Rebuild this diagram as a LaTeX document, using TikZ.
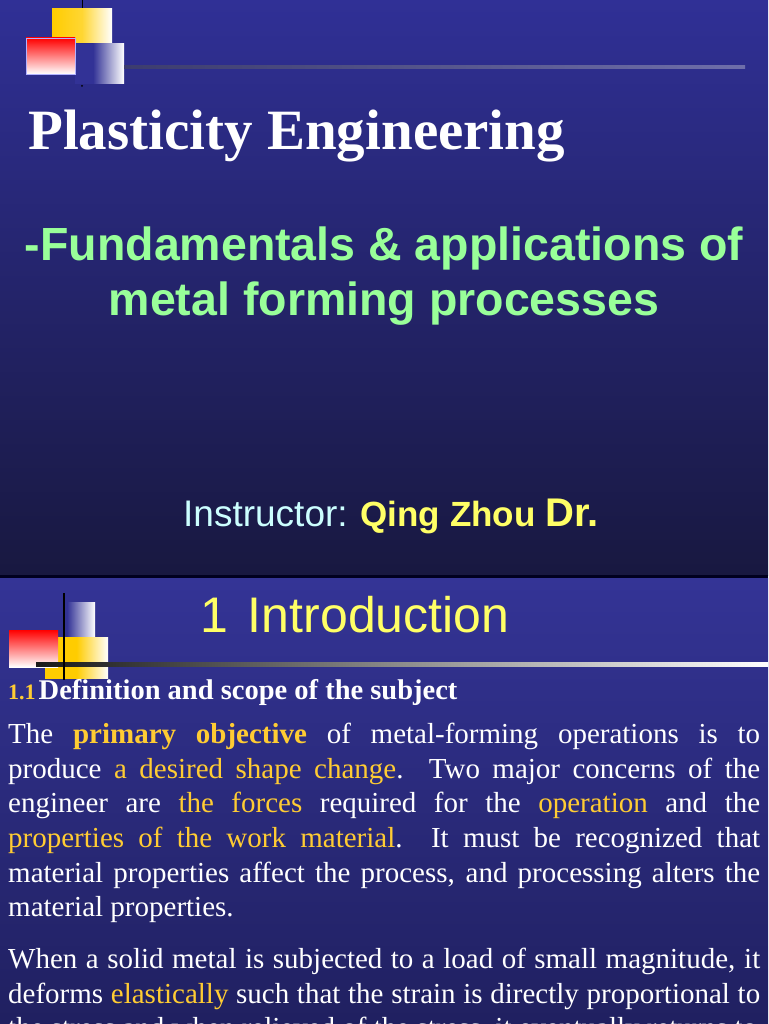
\documentclass[tikz,border=0pt]{standalone}
\usepackage{fontspec}
\setmainfont{Liberation Serif}
\setsansfont{Liberation Sans}
\usetikzlibrary{shadings}
\definecolor{ylw}{HTML}{FFCC00}
\definecolor{txty}{HTML}{FFCC33}
\definecolor{grn}{HTML}{99FF99}
\definecolor{cyn}{HTML}{CCFFFF}
\definecolor{hy}{HTML}{FFFF66}
\definecolor{bgb}{RGB}{50,50,150}
\tikzset{body/.style={anchor=north west,text width=752pt,align=justify,inner sep=0pt,text=white,font=\fontsize{29}{34.6}\selectfont}}
\begin{document}
\begin{tikzpicture}[x=1pt,y=-1pt]
\useasboundingbox (0,0) rectangle (768,1024);
\shade[top color={rgb,255:red,48;green,48;blue,150},bottom color={rgb,255:red,24;green,24;blue,64}] (0,0) rectangle (768,575);
\fill[black!70!blue!40!black] (0,575) rectangle (768,578);
\shade[top color={rgb,255:red,52;green,52;blue,150},bottom color={rgb,255:red,32;green,32;blue,96}] (0,578) rectangle (768,1024);
% logo 1
\draw[black,line width=1pt] (82,0) -- (82,9);
\shade[left color=ylw,right color=white,middle color=ylw!80!white] (52,9) rectangle (112,43);
\fill[bgb] (75,44) rectangle (93,84);
\shade[left color=bgb,right color=white] (93,44) rectangle (124,84);
\shade[shading=axis,shading angle=45,top color=red,bottom color=white] (26,38) rectangle (75,74);
\draw[white!70!blue,line width=0.5pt] (26,38) rectangle (75,74);
\shade[left color={rgb,255:red,60;green,60;blue,110},right color={rgb,255:red,110;green,110;blue,170}] (124,66) rectangle (745,68.5);
\fill[black] (82,86) circle (1);
\node[anchor=base west,text=white,font=\bfseries\fontsize{57}{57}\selectfont,inner sep=0] (title) at (28,150) {Plasticity Engineering};
\node[align=center,text=grn,font=\sffamily\bfseries\fontsize{46.5}{55}\selectfont,inner sep=0] (sub) at (384,276) {-Fundamentals \& applications of\\metal forming processes};
\node[anchor=base west,inner sep=0] (ins) at (183,526) {\sffamily\fontsize{37}{37}\selectfont\textcolor{cyn}{Instructor:}\hspace{0.35em}\textcolor{hy}{\bfseries\fontsize{35}{35}\selectfont Qing Zhou }\textcolor{hy}{\bfseries\fontsize{40}{40}\selectfont Dr.}};
% logo 2
\shade[left color=bgb,right color=white] (67,602) rectangle (95,637);
\shade[left color=ylw,right color=white,middle color=ylw] (45,637) rectangle (108,678);
\shade[shading=axis,shading angle=45,top color=red,bottom color=white] (9,630) rectangle (58,667);
\shade[left color=black!90,right color=white] (36,662) rectangle (768,666);
\draw[black,line width=1.2pt] (64,593) -- (64,680);
\node[anchor=base west,text=hy,font=\sffamily\fontsize{50}{50}\selectfont,inner sep=0] (intro) at (200,632) {1\hspace{0.4em}Introduction};
\node[anchor=base west,inner sep=0] (sec) at (8,699) {\textcolor{txty}{\bfseries\fontsize{22}{22}\selectfont 1.1}\hspace{0.3em}\textcolor{white}{\bfseries\fontsize{28.5}{28.5}\selectfont Definition and scope of the subject}};
\node[body] (p1) at (8,723) {The \textcolor{txty}{\bfseries primary objective} of metal-forming operations is to\linebreak produce \textcolor{txty}{a desired shape change}. Two major concerns of the\linebreak engineer are \textcolor{txty}{the forces} required for the \textcolor{txty}{operation} and the\linebreak \textcolor{txty}{properties of the work material}.\ \ It must be recognized that\linebreak material properties affect the process, and processing alters the\linebreak material properties.};
\begin{scope}
\clip (0,0) rectangle (768,1024);
\node[body] (p2) at (8,948) {When a solid metal is subjected to a load of small magnitude, it\linebreak deforms \textcolor{txty}{elastically} such that the strain is directly proportional to\linebreak the stress and when relieved of the stress, it eventually returns to};
\end{scope}
\end{tikzpicture}
\end{document}
